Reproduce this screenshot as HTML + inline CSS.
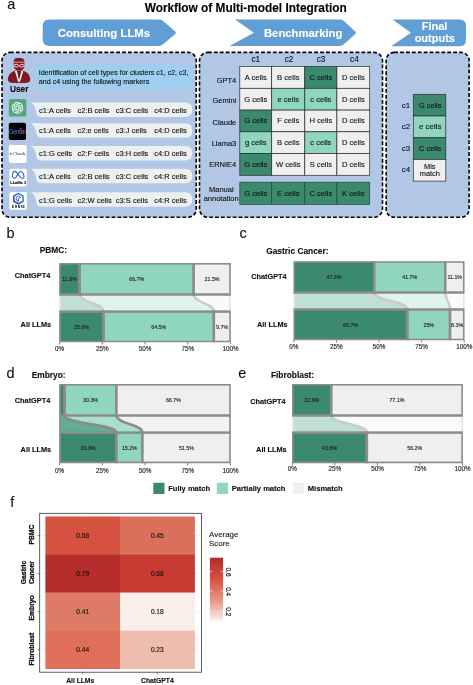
<!DOCTYPE html>
<html lang="en"><head><meta charset="utf-8"><title>Workflow of Multi-model Integration</title>
<style>html,body{margin:0;padding:0;background:#fff;}svg{display:block;}text{font-family:'Liberation Sans', sans-serif;}</style>
</head><body>
<svg width="473" height="685" viewBox="0 0 473 685">
<rect x="0" y="0" width="473" height="685" fill="#ffffff"/>
<g id="panel-a">
<text x="7.2" y="9" font-size="14.5" font-weight="normal" text-anchor="start" fill="#111" stroke="#111" stroke-width="0.12" >a</text>
<text x="245.7" y="11.7" font-size="11.9" font-weight="bold" text-anchor="middle" fill="#000" stroke="#000" stroke-width="0.12" textLength="202" lengthAdjust="spacingAndGlyphs">Workflow of Multi-model Integration</text>
<path d="M49.2,19.4 L159.2,19.4 Q161.2,19.4 162.79999999999998,20.799999999999997 L175.3,31.500000000000004 Q176.5,32.7 175.3,33.900000000000006 L162.79999999999998,44.6 Q161.2,46.0 159.2,46.0 L49.2,46.0 Q42.7,46.0 42.7,39.5 L42.7,25.9 Q42.7,19.4 49.2,19.4 Z" fill="#629ed6"/>
<text x="104" y="36.8" font-size="11.4" font-weight="bold" text-anchor="middle" fill="#fff" stroke="#fff" stroke-width="0.12" >Consulting LLMs</text>
<path d="M235,19.4 L340.0,19.4 Q342.0,19.4 343.6,20.799999999999997 L355.3,31.500000000000004 Q356.5,32.7 355.3,33.900000000000006 L343.6,44.6 Q342.0,46.0 340.0,46.0 L229.5,46.0 L253.8,32.7 Z" fill="#629ed6"/>
<text x="303.2" y="36.8" font-size="11.3" font-weight="bold" text-anchor="middle" fill="#fff" stroke="#fff" stroke-width="0.12" >Benchmarking</text>
<path d="M392.5,19.4 L459.5,19.4 Q466,19.4 466,25.9 L466,39.7 Q466,46.2 459.5,46.2 L391,46.2 L411,32.8 Z" fill="#629ed6"/>
<text x="434.6" y="30" font-size="11" font-weight="bold" text-anchor="middle" fill="#fff" stroke="#fff" stroke-width="0.12" >Final</text>
<text x="434.8" y="41.6" font-size="11" font-weight="bold" text-anchor="middle" fill="#fff" stroke="#fff" stroke-width="0.12" >outputs</text>
<rect x="2.0" y="52.4" width="194.2" height="164.79999999999998" rx="8" ry="8" fill="#b2c6e6" stroke="#000" stroke-width="1.6" stroke-dasharray="3.8 2.1"/>
<rect x="199.5" y="52.4" width="183.0" height="164.9" rx="8.5" ry="8.5" fill="#b2c6e6" stroke="#000" stroke-width="1.6" stroke-dasharray="3.8 2.1"/>
<rect x="386.2" y="52.4" width="82.90000000000003" height="164.9" rx="8" ry="8" fill="#b2c6e6" stroke="#000" stroke-width="1.6" stroke-dasharray="3.8 2.1"/>
<g id="doctor" fill="#82191f">
<path d="M13.7,61.6 Q13.7,57.9 17.5,57.9 L20.6,57.9 Q24.4,57.9 24.4,61.6 L24.4,65.6 Q24.4,70.6 19.05,70.6 Q13.7,70.6 13.7,65.6 Z"/>
<path d="M7.9,79.6 C7.9,74.2 12.2,70.9 16.2,70.4 L21.9,70.4 C25.9,70.9 30.2,74.2 30.2,79.6 C30.2,82.2 27.6,82.9 25.6,82.9 L12.5,82.9 C10.5,82.9 7.9,82.2 7.9,79.6 Z"/>
<path d="M13.7,62.2 L24.4,62.2" stroke="#f6e4e4" stroke-width="0.7" fill="none"/>
<ellipse cx="16.3" cy="65.7" rx="2.3" ry="1.35" fill="none" stroke="#ffffff" stroke-width="0.85"/>
<ellipse cx="21.8" cy="65.7" rx="2.3" ry="1.35" fill="none" stroke="#ffffff" stroke-width="0.85"/>
<path d="M14.9,70.9 L16.7,70.7 L19.3,81.2 L18.3,82.3 Z M23.3,70.9 L21.5,70.7 L18.9,81.2 L19.9,82.3 Z" fill="#fff"/>
</g>
<text x="19.2" y="92" font-size="8.3" font-weight="bold" text-anchor="middle" fill="#111" stroke="#111" stroke-width="0.12" >User</text>
<path d="M31.1,65 L180.8,65 Q192.8,65 192.8,77 Q192.8,89 180.8,89 L43,89 Q36.4,89 36.2,82.5 L36.2,76 C36.1,71.5 34.6,67.8 31.1,65 Z" fill="#9dd0f0"/>
<text x="38.7" y="75.0" font-size="7.4" font-weight="normal" text-anchor="start" fill="#111" stroke="#111" stroke-width="0.12" textLength="149.8" lengthAdjust="spacingAndGlyphs">Identification of cell types for clusters c1, c2, c3,</text>
<text x="38.7" y="83.5" font-size="7.4" font-weight="normal" text-anchor="start" fill="#111" stroke="#111" stroke-width="0.12" textLength="110.6" lengthAdjust="spacingAndGlyphs">and c4 using the following markers</text>
<path d="M31.1,102.4 L185.05,102.4 Q192.3,102.4 192.3,109.65 Q192.3,116.9 185.05,116.9 L42,116.9 Q36.4,116.9 36.2,112.10000000000001 C36.1,108.9 34.6,105.2 31.1,102.4 Z" fill="#ecf0f1"/>
<text x="39.1" y="112.5" font-size="7.5" font-weight="normal" text-anchor="start" fill="#111" stroke="#111" stroke-width="0.12" >c1:A cells</text>
<text x="77.5" y="112.5" font-size="7.5" font-weight="normal" text-anchor="start" fill="#111" stroke="#111" stroke-width="0.12" >c2:B cells</text>
<text x="115.8" y="112.5" font-size="7.5" font-weight="normal" text-anchor="start" fill="#111" stroke="#111" stroke-width="0.12" >c3:C cells</text>
<text x="154.2" y="112.5" font-size="7.5" font-weight="normal" text-anchor="start" fill="#111" stroke="#111" stroke-width="0.12" >c4:D cells</text>
<path d="M31.1,123.2 L185.05,123.2 Q192.3,123.2 192.3,130.45 Q192.3,137.7 185.05,137.7 L42,137.7 Q36.4,137.7 36.2,132.89999999999998 C36.1,129.7 34.6,126.0 31.1,123.2 Z" fill="#ecf0f1"/>
<text x="39.1" y="133.1" font-size="7.5" font-weight="normal" text-anchor="start" fill="#111" stroke="#111" stroke-width="0.12" >c1:A cells</text>
<text x="77.5" y="133.1" font-size="7.5" font-weight="normal" text-anchor="start" fill="#111" stroke="#111" stroke-width="0.12" >c2:e cells</text>
<text x="115.8" y="133.1" font-size="7.5" font-weight="normal" text-anchor="start" fill="#111" stroke="#111" stroke-width="0.12" >c3:J cells</text>
<text x="154.2" y="133.1" font-size="7.5" font-weight="normal" text-anchor="start" fill="#111" stroke="#111" stroke-width="0.12" >c4:D cells</text>
<path d="M31.1,146.0 L185.05,146.0 Q192.3,146.0 192.3,153.25 Q192.3,160.5 185.05,160.5 L42,160.5 Q36.4,160.5 36.2,155.7 C36.1,152.5 34.6,148.8 31.1,146.0 Z" fill="#ecf0f1"/>
<text x="39.1" y="155.8" font-size="7.5" font-weight="normal" text-anchor="start" fill="#111" stroke="#111" stroke-width="0.12" >c1:G cells</text>
<text x="77.5" y="155.8" font-size="7.5" font-weight="normal" text-anchor="start" fill="#111" stroke="#111" stroke-width="0.12" >c2:F cells</text>
<text x="115.8" y="155.8" font-size="7.5" font-weight="normal" text-anchor="start" fill="#111" stroke="#111" stroke-width="0.12" >c3:H cells</text>
<text x="154.2" y="155.8" font-size="7.5" font-weight="normal" text-anchor="start" fill="#111" stroke="#111" stroke-width="0.12" >c4:D cells</text>
<path d="M31.1,168.8 L185.05,168.8 Q192.3,168.8 192.3,176.05 Q192.3,183.3 185.05,183.3 L42,183.3 Q36.4,183.3 36.2,178.5 C36.1,175.3 34.6,171.60000000000002 31.1,168.8 Z" fill="#ecf0f1"/>
<text x="39.1" y="178.8" font-size="7.5" font-weight="normal" text-anchor="start" fill="#111" stroke="#111" stroke-width="0.12" >c1:A cells</text>
<text x="77.5" y="178.8" font-size="7.5" font-weight="normal" text-anchor="start" fill="#111" stroke="#111" stroke-width="0.12" >c2:B cells</text>
<text x="115.8" y="178.8" font-size="7.5" font-weight="normal" text-anchor="start" fill="#111" stroke="#111" stroke-width="0.12" >c3:C cells</text>
<text x="154.2" y="178.8" font-size="7.5" font-weight="normal" text-anchor="start" fill="#111" stroke="#111" stroke-width="0.12" >c4:R cells</text>
<path d="M31.1,192.3 L185.05,192.3 Q192.3,192.3 192.3,199.55 Q192.3,206.8 185.05,206.8 L42,206.8 Q36.4,206.8 36.2,202.0 C36.1,198.8 34.6,195.10000000000002 31.1,192.3 Z" fill="#ecf0f1"/>
<text x="39.1" y="202.7" font-size="7.5" font-weight="normal" text-anchor="start" fill="#111" stroke="#111" stroke-width="0.12" >c1:G cells</text>
<text x="77.5" y="202.7" font-size="7.5" font-weight="normal" text-anchor="start" fill="#111" stroke="#111" stroke-width="0.12" >c2:W cells</text>
<text x="115.8" y="202.7" font-size="7.5" font-weight="normal" text-anchor="start" fill="#111" stroke="#111" stroke-width="0.12" >c3:S cells</text>
<text x="154.2" y="202.7" font-size="7.5" font-weight="normal" text-anchor="start" fill="#111" stroke="#111" stroke-width="0.12" >c4:R cells</text>
<rect x="8.9" y="99.1" width="17.4" height="17.5" rx="1.7" fill="#52a87e"/>
<path transform="translate(11.650,102.050) scale(0.4833)" d="M22.2819 9.8211a5.9847 5.9847 0 0 0-.5157-4.9108 6.0462 6.0462 0 0 0-6.5098-2.9A6.0651 6.0651 0 0 0 4.9807 4.1818a5.9847 5.9847 0 0 0-3.9977 2.9 6.0462 6.0462 0 0 0 .7427 7.0966 5.98 5.98 0 0 0 .511 4.9107 6.051 6.051 0 0 0 6.5146 2.9001A5.9847 5.9847 0 0 0 13.2599 24a6.0557 6.0557 0 0 0 5.7718-4.2058 5.9894 5.9894 0 0 0 3.9977-2.9001 6.0557 6.0557 0 0 0-.7475-7.0729zm-9.022 12.6081a4.4755 4.4755 0 0 1-2.8764-1.0408l.1419-.0804 4.7783-2.7582a.7948.7948 0 0 0 .3927-.6813v-6.7369l2.02 1.1686a.071.071 0 0 1 .038.052v5.5826a4.504 4.504 0 0 1-4.4945 4.4944zm-9.6607-4.1254a4.4708 4.4708 0 0 1-.5346-3.0137l.142.0852 4.783 2.7582a.7712.7712 0 0 0 .7806 0l5.8428-3.3685v2.3324a.0804.0804 0 0 1-.0332.0615L9.74 19.9502a4.4992 4.4992 0 0 1-6.1408-1.6464zM2.3408 7.8956a4.485 4.485 0 0 1 2.3655-1.9728V11.6a.7664.7664 0 0 0 .3879.6765l5.8144 3.3543-2.0201 1.1685a.0757.0757 0 0 1-.071 0l-4.8303-2.7865A4.504 4.504 0 0 1 2.3408 7.872zm16.5963 3.8558L13.1038 8.364 15.1192 7.2a.0757.0757 0 0 1 .071 0l4.8303 2.7913a4.4944 4.4944 0 0 1-.6765 8.1042v-5.6772a.79.79 0 0 0-.407-.667zm2.0107-3.0231l-.142-.0852-4.7735-2.7818a.7759.7759 0 0 0-.7854 0L9.409 9.2297V6.8974a.0662.0662 0 0 1 .0284-.0615l4.8303-2.7866a4.4992 4.4992 0 0 1 6.6802 4.66zM8.3065 12.863l-2.02-1.1638a.0804.0804 0 0 1-.038-.0567V6.0742a4.4992 4.4992 0 0 1 7.3757-3.4537l-.142.0805L8.704 5.459a.7948.7948 0 0 0-.3927.6813zm1.0976-2.3654l2.602-1.4998 2.6069 1.4998v2.9994l-2.5974 1.4997-2.6067-1.4997Z" fill="#ffffff" stroke="#ffffff" stroke-width="0.35"/>
<rect x="8.8" y="122.8" width="17.2" height="17.2" rx="1.8" fill="#04050b"/>
<defs><linearGradient id="gem" x1="0" x2="1" y1="0" y2="0"><stop offset="0" stop-color="#4a8ada"/><stop offset="0.4" stop-color="#6f86d6"/><stop offset="0.75" stop-color="#a57ccb"/><stop offset="1" stop-color="#dc6a88"/></linearGradient></defs>
<text x="9.3" y="133.7" font-size="7" fill="url(#gem)" textLength="16.3" lengthAdjust="spacingAndGlyphs">Gemini</text>
<path d="M20.7,127.4 L21,128.2 L21.8,128.5 L21,128.8 L20.7,129.6 L20.4,128.8 L19.6,128.5 L20.4,128.2 Z" fill="#b79adf"/>
<rect x="8.8" y="145.1" width="17.8" height="17.8" rx="1.8" fill="#ffffff"/>
<rect x="9.7" y="152.5" width="2.1" height="2.3" rx="0.6" fill="#dc7650"/>
<text x="12.9" y="155.2" font-size="4.6" fill="#2a2a2a" style="font-family:'Liberation Serif',serif" textLength="13" lengthAdjust="spacingAndGlyphs">Claude</text>
<rect x="9.4" y="168.8" width="17.5" height="17.8" rx="1.8" fill="#ffffff"/>
<path d="M12.6,176.6 C11.6,173.4 13.6,170.9 15.4,171.5 C17.4,172.2 19.2,176.4 21.2,177.9 C22.8,179 24.4,178 23.9,175.6 C23.2,172.4 21.2,170.8 19.8,171.8 C18.6,172.7 17.4,175.4 15.9,177.3 C14.6,178.8 13.1,178.4 12.6,176.6 Z" fill="none" stroke="#2460c8" stroke-width="1.05" stroke-linejoin="round"/>
<text x="10.2" y="183.9" font-size="3.9" font-weight="bold" fill="#111" stroke="#111" stroke-width="0.12" textLength="16" lengthAdjust="spacingAndGlyphs">LLaMa 3</text>
<rect x="9.4" y="192.1" width="17.5" height="17.6" rx="1.8" fill="#ffffff"/>
<defs><linearGradient id="ern" x1="0" x2="1" y1="1" y2="0"><stop offset="0" stop-color="#2443b8"/><stop offset="1" stop-color="#4a8fe6"/></linearGradient></defs>
<path d="M18.45,193.4 L23.049999999999997,196.0 L23.049999999999997,201.2 L18.45,203.79999999999998 L13.85,201.2 L13.85,196.0 Z" fill="none" stroke="url(#ern)" stroke-width="1.6" stroke-linejoin="round"/>
<path d="M20.65,197.29999999999998 L18.45,196.0 L16.25,197.29999999999998 L16.25,200.0 L18.45,201.29999999999998 L18.45,198.7 L20.65,197.29999999999998" fill="none" stroke="#22318f" stroke-width="0.8" stroke-linejoin="round"/>
<text x="18.4" y="207.5" font-size="3.1" font-weight="bold" text-anchor="middle" fill="#1a1a2a" stroke="#1a1a2a" stroke-width="0.12" textLength="12.6" lengthAdjust="spacing">ERNIE</text>
<text x="255.8" y="62.4" font-size="8.2" font-weight="normal" text-anchor="middle" fill="#111" stroke="#111" stroke-width="0.12" >c1</text>
<text x="289.0" y="62.4" font-size="8.2" font-weight="normal" text-anchor="middle" fill="#111" stroke="#111" stroke-width="0.12" >c2</text>
<text x="321.0" y="62.4" font-size="8.2" font-weight="normal" text-anchor="middle" fill="#111" stroke="#111" stroke-width="0.12" >c3</text>
<text x="354.4" y="62.4" font-size="8.2" font-weight="normal" text-anchor="middle" fill="#111" stroke="#111" stroke-width="0.12" >c4</text>
<text x="236.3" y="82.8" font-size="7.5" font-weight="normal" text-anchor="end" fill="#111" stroke="#111" stroke-width="0.12" >GPT4</text>
<rect x="239.8" y="66.5" width="31.90" height="21.80" fill="#efefef" stroke="#2b2b2b" stroke-width="0.7"/>
<text x="255.75" y="79.80000000000001" font-size="7.6" font-weight="normal" text-anchor="middle" fill="#111" stroke="#111" stroke-width="0.12" >A cells</text>
<rect x="271.7" y="66.5" width="33.10" height="21.80" fill="#efefef" stroke="#2b2b2b" stroke-width="0.7"/>
<text x="288.25" y="79.80000000000001" font-size="7.6" font-weight="normal" text-anchor="middle" fill="#111" stroke="#111" stroke-width="0.12" >B cells</text>
<rect x="304.8" y="66.5" width="32.10" height="21.80" fill="#3b8a6d" stroke="#2b2b2b" stroke-width="0.7"/>
<text x="320.85" y="79.80000000000001" font-size="7.6" font-weight="normal" text-anchor="middle" fill="#111" stroke="#111" stroke-width="0.12" >C cells</text>
<rect x="336.9" y="66.5" width="32.80" height="21.80" fill="#efefef" stroke="#2b2b2b" stroke-width="0.7"/>
<text x="353.29999999999995" y="79.80000000000001" font-size="7.6" font-weight="normal" text-anchor="middle" fill="#111" stroke="#111" stroke-width="0.12" >D cells</text>
<text x="236.3" y="102.9" font-size="7.5" font-weight="normal" text-anchor="end" fill="#111" stroke="#111" stroke-width="0.12" >Gemini</text>
<rect x="239.8" y="88.3" width="31.90" height="21.80" fill="#efefef" stroke="#2b2b2b" stroke-width="0.7"/>
<text x="255.75" y="101.6" font-size="7.6" font-weight="normal" text-anchor="middle" fill="#111" stroke="#111" stroke-width="0.12" >G cells</text>
<rect x="271.7" y="88.3" width="33.10" height="21.80" fill="#90d6bf" stroke="#2b2b2b" stroke-width="0.7"/>
<text x="288.25" y="101.6" font-size="7.6" font-weight="normal" text-anchor="middle" fill="#111" stroke="#111" stroke-width="0.12" >e cells</text>
<rect x="304.8" y="88.3" width="32.10" height="21.80" fill="#90d6bf" stroke="#2b2b2b" stroke-width="0.7"/>
<text x="320.85" y="101.6" font-size="7.6" font-weight="normal" text-anchor="middle" fill="#111" stroke="#111" stroke-width="0.12" >c cells</text>
<rect x="336.9" y="88.3" width="32.80" height="21.80" fill="#efefef" stroke="#2b2b2b" stroke-width="0.7"/>
<text x="353.29999999999995" y="101.6" font-size="7.6" font-weight="normal" text-anchor="middle" fill="#111" stroke="#111" stroke-width="0.12" >D cells</text>
<text x="236.3" y="124.5" font-size="7.5" font-weight="normal" text-anchor="end" fill="#111" stroke="#111" stroke-width="0.12" >Claude</text>
<rect x="239.8" y="110.1" width="31.90" height="21.70" fill="#3b8a6d" stroke="#2b2b2b" stroke-width="0.7"/>
<text x="255.75" y="123.35000000000001" font-size="7.6" font-weight="normal" text-anchor="middle" fill="#111" stroke="#111" stroke-width="0.12" >G cells</text>
<rect x="271.7" y="110.1" width="33.10" height="21.70" fill="#efefef" stroke="#2b2b2b" stroke-width="0.7"/>
<text x="288.25" y="123.35000000000001" font-size="7.6" font-weight="normal" text-anchor="middle" fill="#111" stroke="#111" stroke-width="0.12" >F cells</text>
<rect x="304.8" y="110.1" width="32.10" height="21.70" fill="#efefef" stroke="#2b2b2b" stroke-width="0.7"/>
<text x="320.85" y="123.35000000000001" font-size="7.6" font-weight="normal" text-anchor="middle" fill="#111" stroke="#111" stroke-width="0.12" >H cells</text>
<rect x="336.9" y="110.1" width="32.80" height="21.70" fill="#efefef" stroke="#2b2b2b" stroke-width="0.7"/>
<text x="353.29999999999995" y="123.35000000000001" font-size="7.6" font-weight="normal" text-anchor="middle" fill="#111" stroke="#111" stroke-width="0.12" >D cells</text>
<text x="236.3" y="145.6" font-size="7.5" font-weight="normal" text-anchor="end" fill="#111" stroke="#111" stroke-width="0.12" >Llama3</text>
<rect x="239.8" y="131.8" width="31.90" height="21.80" fill="#90d6bf" stroke="#2b2b2b" stroke-width="0.7"/>
<text x="255.75" y="145.1" font-size="7.6" font-weight="normal" text-anchor="middle" fill="#111" stroke="#111" stroke-width="0.12" >g cells</text>
<rect x="271.7" y="131.8" width="33.10" height="21.80" fill="#efefef" stroke="#2b2b2b" stroke-width="0.7"/>
<text x="288.25" y="145.1" font-size="7.6" font-weight="normal" text-anchor="middle" fill="#111" stroke="#111" stroke-width="0.12" >B cells</text>
<rect x="304.8" y="131.8" width="32.10" height="21.80" fill="#90d6bf" stroke="#2b2b2b" stroke-width="0.7"/>
<text x="320.85" y="145.1" font-size="7.6" font-weight="normal" text-anchor="middle" fill="#111" stroke="#111" stroke-width="0.12" >c cells</text>
<rect x="336.9" y="131.8" width="32.80" height="21.80" fill="#efefef" stroke="#2b2b2b" stroke-width="0.7"/>
<text x="353.29999999999995" y="145.1" font-size="7.6" font-weight="normal" text-anchor="middle" fill="#111" stroke="#111" stroke-width="0.12" >D cells</text>
<text x="236.3" y="167.4" font-size="7.5" font-weight="normal" text-anchor="end" fill="#111" stroke="#111" stroke-width="0.12" >ERNIE4</text>
<rect x="239.8" y="153.6" width="31.90" height="21.70" fill="#3b8a6d" stroke="#2b2b2b" stroke-width="0.7"/>
<text x="255.75" y="166.85" font-size="7.6" font-weight="normal" text-anchor="middle" fill="#111" stroke="#111" stroke-width="0.12" >G cells</text>
<rect x="271.7" y="153.6" width="33.10" height="21.70" fill="#efefef" stroke="#2b2b2b" stroke-width="0.7"/>
<text x="288.25" y="166.85" font-size="7.6" font-weight="normal" text-anchor="middle" fill="#111" stroke="#111" stroke-width="0.12" >W cells</text>
<rect x="304.8" y="153.6" width="32.10" height="21.70" fill="#efefef" stroke="#2b2b2b" stroke-width="0.7"/>
<text x="320.85" y="166.85" font-size="7.6" font-weight="normal" text-anchor="middle" fill="#111" stroke="#111" stroke-width="0.12" >S cells</text>
<rect x="336.9" y="153.6" width="32.80" height="21.70" fill="#efefef" stroke="#2b2b2b" stroke-width="0.7"/>
<text x="353.29999999999995" y="166.85" font-size="7.6" font-weight="normal" text-anchor="middle" fill="#111" stroke="#111" stroke-width="0.12" >D cells</text>
<rect x="239.8" y="182.2" width="31.90" height="22.200000000000017" fill="#3b8a6d" stroke="#1d4a3a" stroke-width="0.7"/>
<text x="255.75" y="195.60000000000002" font-size="7.6" font-weight="normal" text-anchor="middle" fill="#111" stroke="#111" stroke-width="0.12" >G cells</text>
<rect x="271.7" y="182.2" width="33.10" height="22.200000000000017" fill="#3b8a6d" stroke="#1d4a3a" stroke-width="0.7"/>
<text x="288.25" y="195.60000000000002" font-size="7.6" font-weight="normal" text-anchor="middle" fill="#111" stroke="#111" stroke-width="0.12" >E cells</text>
<rect x="304.8" y="182.2" width="32.10" height="22.200000000000017" fill="#3b8a6d" stroke="#1d4a3a" stroke-width="0.7"/>
<text x="320.85" y="195.60000000000002" font-size="7.6" font-weight="normal" text-anchor="middle" fill="#111" stroke="#111" stroke-width="0.12" >C cells</text>
<rect x="336.9" y="182.2" width="32.80" height="22.200000000000017" fill="#3b8a6d" stroke="#1d4a3a" stroke-width="0.7"/>
<text x="353.29999999999995" y="195.60000000000002" font-size="7.6" font-weight="normal" text-anchor="middle" fill="#111" stroke="#111" stroke-width="0.12" >K cells</text>
<text x="221.3" y="191.7" font-size="7.5" font-weight="normal" text-anchor="middle" fill="#111" stroke="#111" stroke-width="0.12" >Manual</text>
<text x="221.2" y="200.6" font-size="7.5" font-weight="normal" text-anchor="middle" fill="#111" stroke="#111" stroke-width="0.12" >annotation</text>
<rect x="413.3" y="94.3" width="32.50" height="21.70" fill="#3b8a6d" stroke="#2b2b2b" stroke-width="0.7"/>
<text x="406" y="108.3" font-size="8" font-weight="normal" text-anchor="middle" fill="#111" stroke="#111" stroke-width="0.12" >c1</text>
<text x="430.2" y="107.8" font-size="7.6" font-weight="normal" text-anchor="middle" fill="#111" stroke="#111" stroke-width="0.12" textLength="22.3" lengthAdjust="spacingAndGlyphs">G cells</text>
<rect x="413.3" y="116.0" width="32.50" height="21.80" fill="#90d6bf" stroke="#2b2b2b" stroke-width="0.7"/>
<text x="406" y="129.3" font-size="8" font-weight="normal" text-anchor="middle" fill="#111" stroke="#111" stroke-width="0.12" >c2</text>
<text x="430.2" y="129.3" font-size="7.6" font-weight="normal" text-anchor="middle" fill="#111" stroke="#111" stroke-width="0.12" textLength="22.3" lengthAdjust="spacingAndGlyphs">e cells</text>
<rect x="413.3" y="137.8" width="32.50" height="21.60" fill="#3b8a6d" stroke="#2b2b2b" stroke-width="0.7"/>
<text x="406" y="151.0" font-size="8" font-weight="normal" text-anchor="middle" fill="#111" stroke="#111" stroke-width="0.12" >c3</text>
<text x="430.2" y="151.3" font-size="7.6" font-weight="normal" text-anchor="middle" fill="#111" stroke="#111" stroke-width="0.12" textLength="22.3" lengthAdjust="spacingAndGlyphs">C cells</text>
<rect x="413.3" y="159.4" width="32.50" height="21.70" fill="#efefef" stroke="#2b2b2b" stroke-width="0.7"/>
<text x="406" y="172.1" font-size="8" font-weight="normal" text-anchor="middle" fill="#111" stroke="#111" stroke-width="0.12" >c4</text>
<text x="429.8" y="169.1" font-size="7.4" font-weight="normal" text-anchor="middle" fill="#111" stroke="#111" stroke-width="0.12" >Mis</text>
<text x="429.8" y="176.4" font-size="7.4" font-weight="normal" text-anchor="middle" fill="#111" stroke="#111" stroke-width="0.12" >match</text>
</g>
<g id="panel-b">
<text x="6.4" y="238.1" font-size="14.5" font-weight="normal" text-anchor="start" fill="#111" stroke="#111" stroke-width="0.12" >b</text>
<text x="39.7" y="253.2" font-size="8.4" font-weight="bold" text-anchor="start" fill="#111" stroke="#111" stroke-width="0.12" >PBMC:</text>
<clipPath id="clip-panel-b"><rect x="59.20" y="263.00" width="171.60" height="79.30"/></clipPath>
<g clip-path="url(#clip-panel-b)">
<path d="M59.55,294.5 C59.55,303.05 59.55,303.05 59.55,311.6 L103.64,311.6 C103.64,303.05 79.72,303.05 79.72,294.5 Z" fill="#c0e0d5"/>
<path d="M79.72,294.5 C79.72,303.05 103.64,303.05 103.64,311.6 L213.87,311.6 C213.87,303.05 193.71,303.05 193.71,294.5 Z" fill="#e0f4ed"/>
<path d="M193.71,294.5 C193.71,303.05 213.87,303.05 213.87,311.6 L230.45,311.6 C230.45,303.05 230.45,303.05 230.45,294.5 Z" fill="#fafafa"/>
<path d="M79.72,294.5 C79.72,303.05 103.64,303.05 103.64,311.6" fill="none" stroke="#cbcbcb" stroke-width="2.5"/>
<path d="M193.71,294.5 C193.71,303.05 213.87,303.05 213.87,311.6" fill="none" stroke="#cbcbcb" stroke-width="2.5"/>
<path d="M59.55,294.5 L59.55,311.6 M230.45,294.5 L230.45,311.6" fill="none" stroke="#e6e6e6" stroke-width="2.5"/>
<rect x="59.55" y="263.35" width="20.17" height="31.15" fill="#3b8a6d" stroke="#8c8c8c" stroke-width="2.5"/>
<rect x="79.72" y="263.35" width="113.99" height="31.15" fill="#90d6bf" stroke="#8c8c8c" stroke-width="2.5"/>
<rect x="193.71" y="263.35" width="36.74" height="31.15" fill="#efefef" stroke="#8c8c8c" stroke-width="2.5"/>
<rect x="59.55" y="311.6" width="44.09" height="30.35" fill="#3b8a6d" stroke="#8c8c8c" stroke-width="2.5"/>
<rect x="103.64" y="311.6" width="110.23" height="30.35" fill="#90d6bf" stroke="#8c8c8c" stroke-width="2.5"/>
<rect x="213.87" y="311.6" width="16.58" height="30.35" fill="#efefef" stroke="#8c8c8c" stroke-width="2.5"/>
</g>
<text x="69.63" y="280.82" font-size="5.3" font-weight="normal" text-anchor="middle" fill="#222" stroke="#222" stroke-width="0.12" >11.8%</text>
<text x="136.71" y="280.82" font-size="5.3" font-weight="normal" text-anchor="middle" fill="#222" stroke="#222" stroke-width="0.12" >66.7%</text>
<text x="212.08" y="280.82" font-size="5.3" font-weight="normal" text-anchor="middle" fill="#222" stroke="#222" stroke-width="0.12" >21.5%</text>
<text x="81.60" y="328.67" font-size="5.3" font-weight="normal" text-anchor="middle" fill="#222" stroke="#222" stroke-width="0.12" >25.8%</text>
<text x="158.76" y="328.67" font-size="5.3" font-weight="normal" text-anchor="middle" fill="#222" stroke="#222" stroke-width="0.12" >64.5%</text>
<text x="222.16" y="328.67" font-size="5.3" font-weight="normal" text-anchor="middle" fill="#222" stroke="#222" stroke-width="0.12" >9.7%</text>
<text x="50.3" y="278.4" font-size="7.35" font-weight="bold" text-anchor="end" fill="#111" stroke="#111" stroke-width="0.12" >ChatGPT4</text>
<text x="51.2" y="327.4" font-size="7.35" font-weight="bold" text-anchor="end" fill="#111" stroke="#111" stroke-width="0.12" >All LLMs</text>
<path d="M59.55,342.3 L59.55,344.40000000000003" stroke="#333" stroke-width="0.7"/>
<text x="59.55" y="350.5" font-size="6.3" font-weight="normal" text-anchor="middle" fill="#262626" stroke="#262626" stroke-width="0.12" style="stroke-width:0.15">0%</text>
<path d="M102.27,342.3 L102.27,344.40000000000003" stroke="#333" stroke-width="0.7"/>
<text x="102.27" y="350.5" font-size="6.3" font-weight="normal" text-anchor="middle" fill="#262626" stroke="#262626" stroke-width="0.12" style="stroke-width:0.15">25%</text>
<path d="M145.00,342.3 L145.00,344.40000000000003" stroke="#333" stroke-width="0.7"/>
<text x="145.00" y="350.5" font-size="6.3" font-weight="normal" text-anchor="middle" fill="#262626" stroke="#262626" stroke-width="0.12" style="stroke-width:0.15">50%</text>
<path d="M187.72,342.3 L187.72,344.40000000000003" stroke="#333" stroke-width="0.7"/>
<text x="187.72" y="350.5" font-size="6.3" font-weight="normal" text-anchor="middle" fill="#262626" stroke="#262626" stroke-width="0.12" style="stroke-width:0.15">75%</text>
<path d="M230.45,342.3 L230.45,344.40000000000003" stroke="#333" stroke-width="0.7"/>
<text x="230.45" y="350.5" font-size="6.3" font-weight="normal" text-anchor="middle" fill="#262626" stroke="#262626" stroke-width="0.12" style="stroke-width:0.15">100%</text>
</g>
<g id="panel-c">
<text x="239.6" y="238.1" font-size="14.5" font-weight="normal" text-anchor="start" fill="#111" stroke="#111" stroke-width="0.12" >c</text>
<text x="266.2" y="253.5" font-size="8.4" font-weight="bold" text-anchor="start" fill="#111" stroke="#111" stroke-width="0.12" >Gastric Cancer:</text>
<clipPath id="clip-panel-c"><rect x="293.45" y="261.20" width="171.10" height="79.10"/></clipPath>
<g clip-path="url(#clip-panel-c)">
<path d="M293.80,292.5 C293.80,301.0 293.80,301.0 293.80,309.5 L407.46,309.5 C407.46,301.0 374.23,301.0 374.23,292.5 Z" fill="#c0e0d5"/>
<path d="M374.23,292.5 C374.23,301.0 407.46,301.0 407.46,309.5 L450.06,309.5 C450.06,301.0 445.29,301.0 445.29,292.5 Z" fill="#e0f4ed"/>
<path d="M445.29,292.5 C445.29,301.0 450.06,301.0 450.06,309.5 L464.20,309.5 C464.20,301.0 464.20,301.0 464.20,292.5 Z" fill="#fafafa"/>
<path d="M374.23,292.5 C374.23,301.0 407.46,301.0 407.46,309.5" fill="none" stroke="#cbcbcb" stroke-width="2.5"/>
<path d="M445.29,292.5 C445.29,301.0 450.06,301.0 450.06,309.5" fill="none" stroke="#cbcbcb" stroke-width="2.5"/>
<path d="M293.8,292.5 L293.8,309.5 M464.2,292.5 L464.2,309.5" fill="none" stroke="#e6e6e6" stroke-width="2.5"/>
<rect x="293.80" y="261.55" width="80.43" height="30.95" fill="#3b8a6d" stroke="#8c8c8c" stroke-width="2.5"/>
<rect x="374.23" y="261.55" width="71.06" height="30.95" fill="#90d6bf" stroke="#8c8c8c" stroke-width="2.5"/>
<rect x="445.29" y="261.55" width="18.91" height="30.95" fill="#efefef" stroke="#8c8c8c" stroke-width="2.5"/>
<rect x="293.80" y="309.5" width="113.66" height="30.45" fill="#3b8a6d" stroke="#8c8c8c" stroke-width="2.5"/>
<rect x="407.46" y="309.5" width="42.60" height="30.45" fill="#90d6bf" stroke="#8c8c8c" stroke-width="2.5"/>
<rect x="450.06" y="309.5" width="14.14" height="30.45" fill="#efefef" stroke="#8c8c8c" stroke-width="2.5"/>
</g>
<text x="334.01" y="278.92" font-size="5.3" font-weight="normal" text-anchor="middle" fill="#222" stroke="#222" stroke-width="0.12" >47.2%</text>
<text x="409.76" y="278.92" font-size="5.3" font-weight="normal" text-anchor="middle" fill="#222" stroke="#222" stroke-width="0.12" >41.7%</text>
<text x="454.74" y="278.92" font-size="5.3" font-weight="normal" text-anchor="middle" fill="#222" stroke="#222" stroke-width="0.12" >11.1%</text>
<text x="350.63" y="326.62" font-size="5.3" font-weight="normal" text-anchor="middle" fill="#222" stroke="#222" stroke-width="0.12" >66.7%</text>
<text x="428.76" y="326.62" font-size="5.3" font-weight="normal" text-anchor="middle" fill="#222" stroke="#222" stroke-width="0.12" >25%</text>
<text x="457.13" y="326.62" font-size="5.3" font-weight="normal" text-anchor="middle" fill="#222" stroke="#222" stroke-width="0.12" >8.3%</text>
<text x="286.7" y="278.5" font-size="7.35" font-weight="bold" text-anchor="end" fill="#111" stroke="#111" stroke-width="0.12" >ChatGPT4</text>
<text x="287.6" y="327.4" font-size="7.35" font-weight="bold" text-anchor="end" fill="#111" stroke="#111" stroke-width="0.12" >All LLMs</text>
<path d="M293.80,340.3 L293.80,342.40000000000003" stroke="#333" stroke-width="0.7"/>
<text x="293.80" y="348.7" font-size="6.3" font-weight="normal" text-anchor="middle" fill="#262626" stroke="#262626" stroke-width="0.12" style="stroke-width:0.15">0%</text>
<path d="M336.40,340.3 L336.40,342.40000000000003" stroke="#333" stroke-width="0.7"/>
<text x="336.40" y="348.7" font-size="6.3" font-weight="normal" text-anchor="middle" fill="#262626" stroke="#262626" stroke-width="0.12" style="stroke-width:0.15">25%</text>
<path d="M379.00,340.3 L379.00,342.40000000000003" stroke="#333" stroke-width="0.7"/>
<text x="379.00" y="348.7" font-size="6.3" font-weight="normal" text-anchor="middle" fill="#262626" stroke="#262626" stroke-width="0.12" style="stroke-width:0.15">50%</text>
<path d="M421.60,340.3 L421.60,342.40000000000003" stroke="#333" stroke-width="0.7"/>
<text x="421.60" y="348.7" font-size="6.3" font-weight="normal" text-anchor="middle" fill="#262626" stroke="#262626" stroke-width="0.12" style="stroke-width:0.15">75%</text>
<path d="M464.20,340.3 L464.20,342.40000000000003" stroke="#333" stroke-width="0.7"/>
<text x="464.20" y="348.7" font-size="6.3" font-weight="normal" text-anchor="middle" fill="#262626" stroke="#262626" stroke-width="0.12" style="stroke-width:0.15">100%</text>
</g>
<g id="panel-d">
<text x="6.4" y="378.2" font-size="14.5" font-weight="normal" text-anchor="start" fill="#111" stroke="#111" stroke-width="0.12" >d</text>
<text x="31.7" y="378.0" font-size="8.4" font-weight="bold" text-anchor="start" fill="#111" stroke="#111" stroke-width="0.12" >Embryo:</text>
<clipPath id="clip-panel-d"><rect x="59.20" y="384.00" width="171.60" height="79.15"/></clipPath>
<g clip-path="url(#clip-panel-d)">
<path d="M59.55,415.5 C59.55,424.05 59.55,424.05 59.55,432.6 L116.46,432.6 C116.46,424.05 64.68,424.05 64.68,415.5 Z" fill="#62ae93"/>
<path d="M64.68,415.5 C64.68,424.05 116.46,424.05 116.46,432.6 L142.44,432.6 C142.44,424.05 116.46,424.05 116.46,415.5 Z" fill="#a9e0cd"/>
<path d="M116.46,415.5 C116.46,424.05 142.44,424.05 142.44,432.6 L230.45,432.6 C230.45,424.05 230.45,424.05 230.45,415.5 Z" fill="#f2f2f2"/>
<path d="M64.68,415.5 C64.68,424.05 116.46,424.05 116.46,432.6" fill="none" stroke="#8c8c8c" stroke-width="2.5"/>
<path d="M116.46,415.5 C116.46,424.05 142.44,424.05 142.44,432.6" fill="none" stroke="#8c8c8c" stroke-width="2.5"/>
<path d="M59.55,415.5 L59.55,432.6 M230.45,415.5 L230.45,432.6" fill="none" stroke="#8c8c8c" stroke-width="2.5"/>
<rect x="59.55" y="384.35" width="5.13" height="31.15" fill="#3b8a6d" stroke="#8c8c8c" stroke-width="2.5"/>
<rect x="64.68" y="384.35" width="51.78" height="31.15" fill="#90d6bf" stroke="#8c8c8c" stroke-width="2.5"/>
<rect x="116.46" y="384.35" width="113.99" height="31.15" fill="#efefef" stroke="#8c8c8c" stroke-width="2.5"/>
<rect x="59.55" y="432.6" width="56.91" height="30.20" fill="#3b8a6d" stroke="#8c8c8c" stroke-width="2.5"/>
<rect x="116.46" y="432.6" width="25.98" height="30.20" fill="#90d6bf" stroke="#8c8c8c" stroke-width="2.5"/>
<rect x="142.44" y="432.6" width="88.01" height="30.20" fill="#efefef" stroke="#8c8c8c" stroke-width="2.5"/>
</g>
<text x="90.57" y="401.82" font-size="5.3" font-weight="normal" text-anchor="middle" fill="#222" stroke="#222" stroke-width="0.12" >30.3%</text>
<text x="173.45" y="401.82" font-size="5.3" font-weight="normal" text-anchor="middle" fill="#222" stroke="#222" stroke-width="0.12" >66.7%</text>
<text x="88.00" y="449.60" font-size="5.3" font-weight="normal" text-anchor="middle" fill="#222" stroke="#222" stroke-width="0.12" >33.3%</text>
<text x="129.45" y="449.60" font-size="5.3" font-weight="normal" text-anchor="middle" fill="#222" stroke="#222" stroke-width="0.12" >15.2%</text>
<text x="186.44" y="449.60" font-size="5.3" font-weight="normal" text-anchor="middle" fill="#222" stroke="#222" stroke-width="0.12" >51.5%</text>
<text x="50.3" y="403.2" font-size="7.35" font-weight="bold" text-anchor="end" fill="#111" stroke="#111" stroke-width="0.12" >ChatGPT4</text>
<text x="51.2" y="452.1" font-size="7.35" font-weight="bold" text-anchor="end" fill="#111" stroke="#111" stroke-width="0.12" >All LLMs</text>
<path d="M59.55,463.15000000000003 L59.55,465.25000000000006" stroke="#333" stroke-width="0.7"/>
<text x="59.55" y="472.7" font-size="6.3" font-weight="normal" text-anchor="middle" fill="#262626" stroke="#262626" stroke-width="0.12" style="stroke-width:0.15">0%</text>
<path d="M102.27,463.15000000000003 L102.27,465.25000000000006" stroke="#333" stroke-width="0.7"/>
<text x="102.27" y="472.7" font-size="6.3" font-weight="normal" text-anchor="middle" fill="#262626" stroke="#262626" stroke-width="0.12" style="stroke-width:0.15">25%</text>
<path d="M145.00,463.15000000000003 L145.00,465.25000000000006" stroke="#333" stroke-width="0.7"/>
<text x="145.00" y="472.7" font-size="6.3" font-weight="normal" text-anchor="middle" fill="#262626" stroke="#262626" stroke-width="0.12" style="stroke-width:0.15">50%</text>
<path d="M187.72,463.15000000000003 L187.72,465.25000000000006" stroke="#333" stroke-width="0.7"/>
<text x="187.72" y="472.7" font-size="6.3" font-weight="normal" text-anchor="middle" fill="#262626" stroke="#262626" stroke-width="0.12" style="stroke-width:0.15">75%</text>
<path d="M230.45,463.15000000000003 L230.45,465.25000000000006" stroke="#333" stroke-width="0.7"/>
<text x="230.45" y="472.7" font-size="6.3" font-weight="normal" text-anchor="middle" fill="#262626" stroke="#262626" stroke-width="0.12" style="stroke-width:0.15">100%</text>
</g>
<g id="panel-e">
<text x="238.2" y="378.2" font-size="14.5" font-weight="normal" text-anchor="start" fill="#111" stroke="#111" stroke-width="0.12" >e</text>
<text x="270.9" y="378.0" font-size="8.4" font-weight="bold" text-anchor="start" fill="#111" stroke="#111" stroke-width="0.12" >Fibroblast:</text>
<clipPath id="clip-panel-e"><rect x="292.00" y="384.00" width="170.90" height="79.15"/></clipPath>
<g clip-path="url(#clip-panel-e)">
<path d="M292.35,415.5 C292.35,424.05 292.35,424.05 292.35,432.6 L366.90,432.6 C366.90,424.05 331.33,424.05 331.33,415.5 Z" fill="#c0e0d5"/>
<path d="M331.33,415.5 C331.33,424.05 366.90,424.05 366.90,432.6 L462.55,432.6 C462.55,424.05 462.55,424.05 462.55,415.5 Z" fill="#fafafa"/>
<path d="M331.33,415.5 C331.33,424.05 366.90,424.05 366.90,432.6" fill="none" stroke="#cbcbcb" stroke-width="2.5"/>
<path d="M292.35,415.5 L292.35,432.6 M462.55,415.5 L462.55,432.6" fill="none" stroke="#e6e6e6" stroke-width="2.5"/>
<rect x="292.35" y="384.35" width="38.98" height="31.15" fill="#3b8a6d" stroke="#8c8c8c" stroke-width="2.5"/>
<rect x="331.33" y="384.35" width="131.22" height="31.15" fill="#efefef" stroke="#8c8c8c" stroke-width="2.5"/>
<rect x="292.35" y="432.6" width="74.55" height="30.20" fill="#3b8a6d" stroke="#8c8c8c" stroke-width="2.5"/>
<rect x="366.90" y="432.6" width="95.65" height="30.20" fill="#efefef" stroke="#8c8c8c" stroke-width="2.5"/>
</g>
<text x="311.84" y="401.82" font-size="5.3" font-weight="normal" text-anchor="middle" fill="#222" stroke="#222" stroke-width="0.12" >22.9%</text>
<text x="396.94" y="401.82" font-size="5.3" font-weight="normal" text-anchor="middle" fill="#222" stroke="#222" stroke-width="0.12" >77.1%</text>
<text x="329.62" y="449.60" font-size="5.3" font-weight="normal" text-anchor="middle" fill="#222" stroke="#222" stroke-width="0.12" >43.8%</text>
<text x="414.72" y="449.60" font-size="5.3" font-weight="normal" text-anchor="middle" fill="#222" stroke="#222" stroke-width="0.12" >56.2%</text>
<text x="285.7" y="403.5" font-size="7.35" font-weight="bold" text-anchor="end" fill="#111" stroke="#111" stroke-width="0.12" >ChatGPT4</text>
<text x="286.7" y="452.1" font-size="7.35" font-weight="bold" text-anchor="end" fill="#111" stroke="#111" stroke-width="0.12" >All LLMs</text>
<path d="M292.35,463.15000000000003 L292.35,465.25000000000006" stroke="#333" stroke-width="0.7"/>
<text x="292.35" y="470.9" font-size="6.3" font-weight="normal" text-anchor="middle" fill="#262626" stroke="#262626" stroke-width="0.12" style="stroke-width:0.15">0%</text>
<path d="M334.90,463.15000000000003 L334.90,465.25000000000006" stroke="#333" stroke-width="0.7"/>
<text x="334.90" y="470.9" font-size="6.3" font-weight="normal" text-anchor="middle" fill="#262626" stroke="#262626" stroke-width="0.12" style="stroke-width:0.15">25%</text>
<path d="M377.45,463.15000000000003 L377.45,465.25000000000006" stroke="#333" stroke-width="0.7"/>
<text x="377.45" y="470.9" font-size="6.3" font-weight="normal" text-anchor="middle" fill="#262626" stroke="#262626" stroke-width="0.12" style="stroke-width:0.15">50%</text>
<path d="M420.00,463.15000000000003 L420.00,465.25000000000006" stroke="#333" stroke-width="0.7"/>
<text x="420.00" y="470.9" font-size="6.3" font-weight="normal" text-anchor="middle" fill="#262626" stroke="#262626" stroke-width="0.12" style="stroke-width:0.15">75%</text>
<path d="M462.55,463.15000000000003 L462.55,465.25000000000006" stroke="#333" stroke-width="0.7"/>
<text x="462.55" y="470.9" font-size="6.3" font-weight="normal" text-anchor="middle" fill="#262626" stroke="#262626" stroke-width="0.12" style="stroke-width:0.15">100%</text>
</g>
<g id="legend">
<rect x="153.3" y="482.8" width="11.2" height="11.2" fill="#3b8a6d"/>
<text x="168.2" y="491.3" font-size="7.55" font-weight="bold" text-anchor="start" fill="#111" stroke="#111" stroke-width="0.12" >Fully match</text>
<rect x="216.8" y="482.8" width="11.2" height="11.2" fill="#90d6bf"/>
<text x="231.7" y="491.3" font-size="7.55" font-weight="bold" text-anchor="start" fill="#111" stroke="#111" stroke-width="0.12" >Partially match</text>
<rect x="293.0" y="482.8" width="11.2" height="11.2" fill="#efefef"/>
<text x="307.8" y="491.3" font-size="7.55" font-weight="bold" text-anchor="start" fill="#111" stroke="#111" stroke-width="0.12" >Mismatch</text>
</g>
<g id="panel-f">
<text x="10.3" y="507.2" font-size="14.5" font-weight="normal" text-anchor="start" fill="#111" stroke="#111" stroke-width="0.12" >f</text>
<rect x="39.7" y="513.3" width="161.9" height="158.9" fill="#fff" stroke="#333" stroke-width="0.8"/>
<path d="M40.1,535.55 L201.2,535.55" stroke="#e6e6e6" stroke-width="0.6"/>
<path d="M40.1,573.6 L201.2,573.6" stroke="#e6e6e6" stroke-width="0.6"/>
<path d="M40.1,611.65 L201.2,611.65" stroke="#e6e6e6" stroke-width="0.6"/>
<path d="M40.1,649.7 L201.2,649.7" stroke="#e6e6e6" stroke-width="0.6"/>
<path d="M82.7,513.7 L82.7,671.8" stroke="#e6e6e6" stroke-width="0.6"/>
<path d="M157.3,513.7 L157.3,671.8" stroke="#e6e6e6" stroke-width="0.6"/>
<rect x="45.4" y="516.5" width="74.90" height="38.40" fill="#d4523f"/>
<text x="82.7" y="537.9499999999999" font-size="6.6" font-weight="normal" text-anchor="middle" fill="#111" stroke="#111" stroke-width="0.12" >0.58</text>
<rect x="120.0" y="516.5" width="74.90" height="38.40" fill="#da705c"/>
<text x="157.3" y="537.9499999999999" font-size="6.6" font-weight="normal" text-anchor="middle" fill="#111" stroke="#111" stroke-width="0.12" >0.45</text>
<path d="M37.6,535.55 L39.6,535.55" stroke="#333" stroke-width="0.6"/>
<rect x="45.4" y="554.6" width="74.90" height="38.30" fill="#b62b2b"/>
<text x="82.7" y="576.0" font-size="6.6" font-weight="normal" text-anchor="middle" fill="#111" stroke="#111" stroke-width="0.12" >0.79</text>
<rect x="120.0" y="554.6" width="74.90" height="38.30" fill="#c93a32"/>
<text x="157.3" y="576.0" font-size="6.6" font-weight="normal" text-anchor="middle" fill="#111" stroke="#111" stroke-width="0.12" >0.68</text>
<path d="M37.6,573.6 L39.6,573.6" stroke="#333" stroke-width="0.6"/>
<rect x="45.4" y="592.6" width="74.90" height="38.40" fill="#dd7b67"/>
<text x="82.7" y="614.0500000000001" font-size="6.6" font-weight="normal" text-anchor="middle" fill="#111" stroke="#111" stroke-width="0.12" >0.41</text>
<rect x="120.0" y="592.6" width="74.90" height="38.40" fill="#f9efe9"/>
<text x="157.3" y="614.0500000000001" font-size="6.6" font-weight="normal" text-anchor="middle" fill="#111" stroke="#111" stroke-width="0.12" >0.18</text>
<path d="M37.6,611.6500000000001 L39.6,611.6500000000001" stroke="#333" stroke-width="0.6"/>
<rect x="45.4" y="630.7" width="74.90" height="38.30" fill="#e16e58"/>
<text x="82.7" y="652.1" font-size="6.6" font-weight="normal" text-anchor="middle" fill="#111" stroke="#111" stroke-width="0.12" >0.44</text>
<rect x="120.0" y="630.7" width="74.90" height="38.30" fill="#eebdae"/>
<text x="157.3" y="652.1" font-size="6.6" font-weight="normal" text-anchor="middle" fill="#111" stroke="#111" stroke-width="0.12" >0.23</text>
<path d="M37.6,649.7 L39.6,649.7" stroke="#333" stroke-width="0.6"/>
<text transform="translate(34.0,534.6) rotate(-90)" font-size="6.8" font-weight="bold" text-anchor="middle" fill="#111" stroke="#111" stroke-width="0.3">PBMC</text>
<text transform="translate(25.8,572.5) rotate(-90)" font-size="6.8" font-weight="bold" text-anchor="middle" fill="#111" stroke="#111" stroke-width="0.3">Gastric</text>
<text transform="translate(34.0,572.6) rotate(-90)" font-size="6.8" font-weight="bold" text-anchor="middle" fill="#111" stroke="#111" stroke-width="0.3">Cancer</text>
<text transform="translate(34.0,607.9) rotate(-90)" font-size="6.8" font-weight="bold" text-anchor="middle" fill="#111" stroke="#111" stroke-width="0.3">Embryo</text>
<text transform="translate(34.0,649.2) rotate(-90)" font-size="6.8" font-weight="bold" text-anchor="middle" fill="#111" stroke="#111" stroke-width="0.3">Fibroblast</text>
<path d="M82.7,672.2 L82.7,674.2" stroke="#333" stroke-width="0.6"/>
<text x="80.2" y="683.2" font-size="6.75" font-weight="bold" text-anchor="middle" fill="#111" stroke="#111" stroke-width="0.12" >All LLMs</text>
<path d="M157.3,672.2 L157.3,674.2" stroke="#333" stroke-width="0.6"/>
<text x="157.4" y="683.2" font-size="6.75" font-weight="bold" text-anchor="middle" fill="#111" stroke="#111" stroke-width="0.12" >ChatGPT4</text>
<text x="209.1" y="536.9" font-size="7.9" font-weight="normal" text-anchor="start" fill="#222" stroke="#222" stroke-width="0.12" >Average</text>
<text x="209.1" y="546.2" font-size="7.9" font-weight="normal" text-anchor="start" fill="#222" stroke="#222" stroke-width="0.12" >Score</text>
<defs><linearGradient id="cb" x1="0" x2="0" y1="0" y2="1"><stop offset="0" stop-color="#b5292a"/><stop offset="0.35" stop-color="#d55541"/><stop offset="0.7" stop-color="#e69d8a"/><stop offset="1" stop-color="#faf1ec"/></linearGradient></defs>
<rect x="209.9" y="557.7" width="13.2" height="63.1" fill="url(#cb)"/>
<path d="M209.9,571.4 L212.6,571.4 M220.4,571.4 L223.1,571.4" stroke="#fff" stroke-width="0.6" opacity="0.85"/>
<text transform="translate(225.5,572.0) rotate(90)" font-size="6.4" text-anchor="middle" fill="#222" stroke="#222" stroke-width="0.2">0.6</text>
<path d="M209.9,591.1 L212.6,591.1 M220.4,591.1 L223.1,591.1" stroke="#fff" stroke-width="0.6" opacity="0.85"/>
<text transform="translate(225.5,591.7) rotate(90)" font-size="6.4" text-anchor="middle" fill="#222" stroke="#222" stroke-width="0.2">0.4</text>
<path d="M209.9,611.2 L212.6,611.2 M220.4,611.2 L223.1,611.2" stroke="#fff" stroke-width="0.6" opacity="0.85"/>
<text transform="translate(225.5,611.8000000000001) rotate(90)" font-size="6.4" text-anchor="middle" fill="#222" stroke="#222" stroke-width="0.2">0.2</text>
</g>
</svg>
</body></html>
